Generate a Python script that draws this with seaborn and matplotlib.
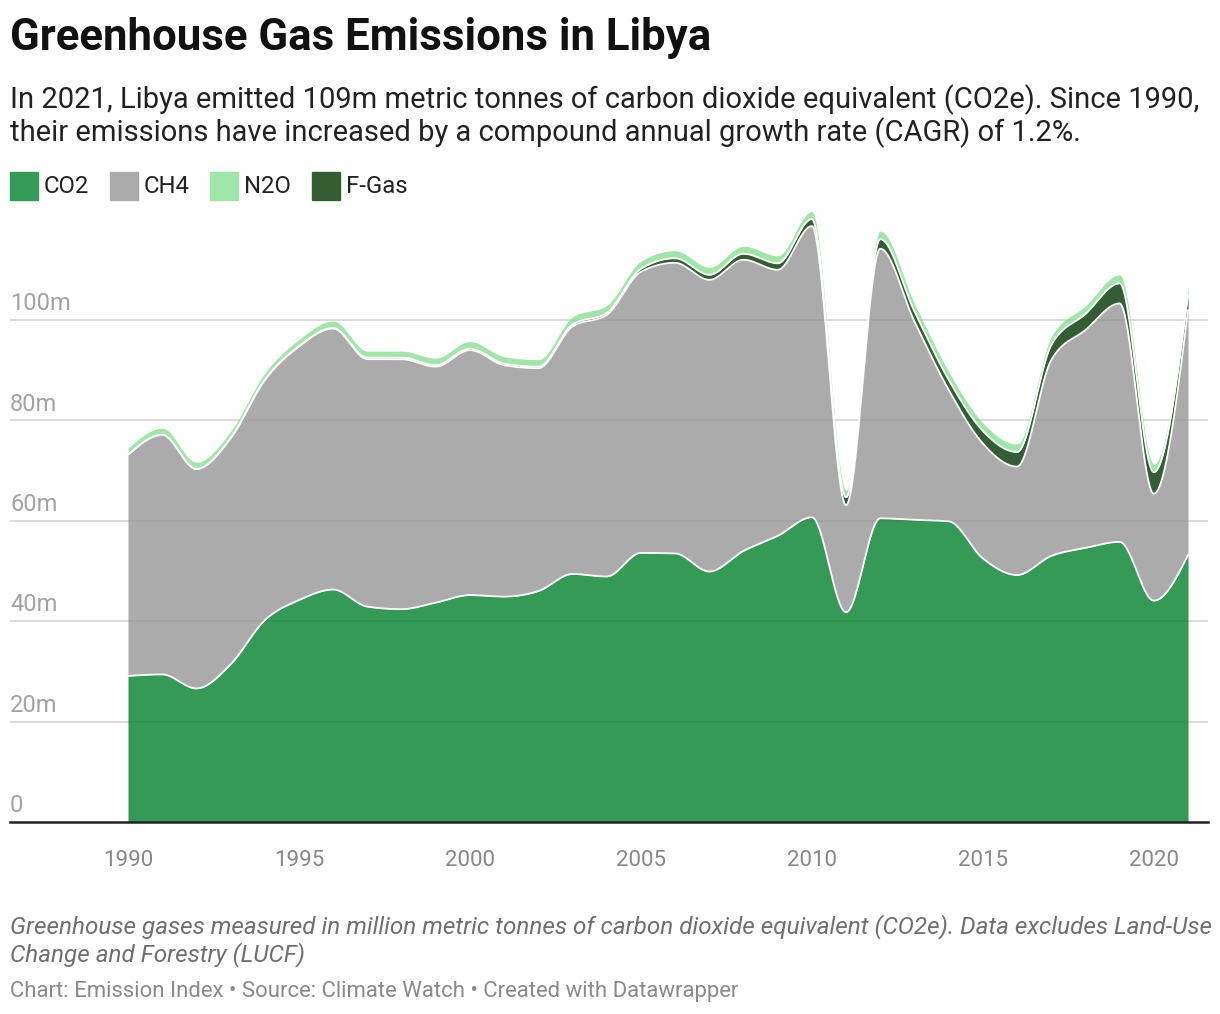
import matplotlib
matplotlib.use("Agg")
import matplotlib.pyplot as plt
import matplotlib.patches as mpatches
import seaborn as sns
import pandas as pd
import numpy as np

# === Data (million tonnes CO2e) ===
years = list(range(1990, 2022))
co2 = [29.1, 29.4, 26.6, 31.4, 40.2, 44.2, 46.3, 42.9, 42.4, 43.7, 45.2, 44.9, 46.0, 49.4, 48.9, 53.6,
       53.5, 49.9, 54.0, 57.0, 60.7, 41.8, 60.5, 60.2, 59.9, 52.5, 49.2, 53.0, 54.6, 55.8, 44.1, 53.2]
ch4 = [44.0, 47.7, 43.7, 45.0, 47.8, 50.5, 52.0, 49.3, 49.8, 47.0, 48.8, 46.1, 44.4, 49.3, 52.1, 56.0,
       57.9, 58.1, 58.0, 53.0, 58.0, 21.3, 53.7, 39.5, 26.2, 22.9, 21.6, 39.0, 43.4, 47.5, 21.3, 48.8]
fgas = [0.05, 0.05, 0.05, 0.1, 0.1, 0.1, 0.1, 0.3, 0.3, 0.3, 0.3, 0.3, 0.3, 0.4, 0.4, 0.6,
        0.9, 1.0, 1.2, 1.3, 1.4, 1.6, 1.9, 2.0, 2.0, 2.5, 2.9, 3.0, 3.2, 4.0, 4.3, 3.0]
n2o = [1.3, 1.3, 1.3, 1.3, 1.3, 1.3, 1.4, 1.3, 1.3, 1.4, 1.4, 1.4, 1.4, 1.5, 1.5, 1.5,
       1.5, 1.5, 1.5, 1.5, 1.5, 1.4, 1.6, 1.6, 1.6, 1.6, 1.6, 1.6, 1.6, 1.7, 1.6, 1.6]

series = ["CO2", "CH4", "N2O", "F-Gas"]
colors = {"CO2": "#349a55", "CH4": "#ababab", "N2O": "#a1e6a9", "F-Gas": "#335e33"}
stack_order = ["CO2", "CH4", "F-Gas", "N2O"]
y_ticks = [0, 20, 40, 60, 80, 100]
x_ticks = [1990, 1995, 2000, 2005, 2010, 2015, 2020]

df = pd.DataFrame({"year": years, "CO2": co2, "CH4": ch4, "F-Gas": fgas, "N2O": n2o})


# === monotone cubic (like d3 curveMonotoneX) for smooth rendering ===
def monotone(x, y, xs):
    x = np.asarray(x, float)
    y = np.asarray(y, float)
    n = len(x)
    h = np.diff(x)
    s = np.diff(y) / h
    t = np.zeros(n)
    for i in range(1, n - 1):
        s0, s1 = s[i - 1], s[i]
        h0, h1 = h[i - 1], h[i]
        p = (s0 * h1 + s1 * h0) / (h0 + h1)
        sg = (-1 if s0 < 0 else 1) + (-1 if s1 < 0 else 1)
        t[i] = sg * min(abs(s0), abs(s1), 0.5 * abs(p))
    t[0] = (3 * s[0] - t[1]) / 2
    t[-1] = (3 * s[-1] - t[-2]) / 2
    idx = np.clip(np.searchsorted(x, xs, side="right") - 1, 0, n - 2)
    hh = h[idx]
    u = (xs - x[idx]) / hh
    h00 = 2 * u**3 - 3 * u**2 + 1
    h10 = u**3 - 2 * u**2 + u
    h01 = -2 * u**3 + 3 * u**2
    h11 = u**3 - u**2
    return h00 * y[idx] + h10 * hh * t[idx] + h01 * y[idx + 1] + h11 * hh * t[idx + 1]


# === Figure ===
sns.set_style("white")
plt.rcParams["font.family"] = ["Roboto", "DejaVu Sans"]

W, H = 1220, 1014
fig = plt.figure(figsize=(W / 100, H / 100), dpi=100)

ax_l, ax_r, ax_b, ax_t = 10, 1208, 822, 200
ax = fig.add_axes([ax_l / W, 1 - ax_b / H, (ax_r - ax_l) / W, (ax_b - ax_t) / H])
px_per_year = 34.2
ax.set_xlim(1990 - (128 - ax_l) / px_per_year, 2021 + (ax_r - 1188) / px_per_year)
ax.set_ylim(0, (ax_b - ax_t) / 5.02)

# stacked boundaries
xs = np.linspace(1990, 2021, 2000)
cum = np.zeros(len(years))
lower = np.zeros_like(xs)
bounds = []
for name in stack_order:
    cum = cum + df[name].values
    upper = monotone(df["year"].values, cum, xs)
    ax.fill_between(xs, lower, upper, color=colors[name], lw=0, zorder=2)
    bounds.append(upper)
    lower = upper

# white separators between layers
sep = pd.DataFrame({"x": np.tile(xs, 3), "y": np.concatenate(bounds[:3]),
                    "layer": np.repeat([0, 1, 2], len(xs))})
sns.lineplot(data=sep, x="x", y="y", units="layer", estimator=None, color="white",
             lw=1.3, ax=ax, zorder=3, legend=False)

# grid & axes
for yt in y_ticks[1:]:
    ax.axhline(yt, color="#e2e2e2", lw=1.2, zorder=1)
    ax.axhline(yt, color="#000000", alpha=0.05, lw=1.2, zorder=4)
ax.set_yticks([])
ax.set_xticks(x_ticks)
ax.set_xticklabels([str(x) for x in x_ticks], fontsize=16, color="#888888")
ax.tick_params(axis="x", direction="out", length=10, width=1, color="#222222", pad=10)
for side in ["top", "right", "left"]:
    ax.spines[side].set_visible(False)
ax.spines["bottom"].set_color("#222222")
ax.spines["bottom"].set_linewidth(1.8)
ax.set_xlabel("")
ax.set_ylabel("")

for yt in y_ticks:
    lab = "0" if yt == 0 else f"{yt}m"
    ax.annotate(lab, xy=(0, yt), xycoords=("axes fraction", "data"), xytext=(0, 7),
                textcoords="offset points", fontsize=17, color="#a3a3a3",
                ha="left", va="baseline", zorder=5)

# === Titles ===
fig.text(10 / W, 1 - 50 / H, "Greenhouse Gas Emissions in Libya", fontsize=31.5,
         fontweight="bold", color="#111111", ha="left", va="baseline")
fig.text(10 / W, 1 - 108 / H,
         "In 2021, Libya emitted 109m metric tonnes of carbon dioxide equivalent (CO2e). Since 1990,",
         fontsize=21, color="#222222", ha="left", va="baseline")
fig.text(10 / W, 1 - 141 / H,
         "their emissions have increased by a compound annual growth rate (CAGR) of 1.2%.",
         fontsize=21, color="#222222", ha="left", va="baseline")

# legend
leg_x = [10, 110, 210, 312]
for name, lx in zip(series, leg_x):
    fig.patches.append(mpatches.Rectangle((lx / W, 1 - 200 / H), 28 / W, 28 / H,
                                          transform=fig.transFigure, color=colors[name]))
    fig.text((lx + 34) / W, 1 - 193 / H, name, fontsize=17.2, color="#222222",
             ha="left", va="baseline")

# footer
fig.text(10 / W, 1 - 933 / H,
         "Greenhouse gases measured in million metric tonnes of carbon dioxide equivalent (CO2e). Data excludes Land-Use",
         fontsize=17.45, style="italic", color="#6f6f6f", ha="left", va="baseline")
fig.text(10 / W, 1 - 961 / H, "Change and Forestry (LUCF)",
         fontsize=17.45, style="italic", color="#6f6f6f", ha="left", va="baseline")
fig.text(10 / W, 1 - 997 / H,
         "Chart: Emission Index \u2022 Source: Climate Watch \u2022 Created with Datawrapper",
         fontsize=15.9, color="#8a8a8a", ha="left", va="baseline")

fig.savefig("out.png", dpi=100, facecolor="white")
